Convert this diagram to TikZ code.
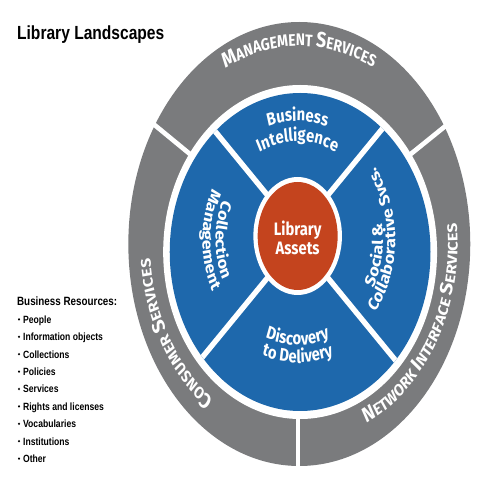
\documentclass[tikz,border=0pt]{standalone}
\usepackage{fontspec}
\setmainfont{Liberation Sans}
\newfontfamily\firafont{Fira Sans}
\usetikzlibrary{decorations.text}
\definecolor{ringgray}{RGB}{122,123,125}
\definecolor{assetblue}{RGB}{30,104,172}
\definecolor{assetred}{RGB}{196,68,30}
\newcommand\ringbig{\firafont\bfseries\fontsize{21.5}{22}\selectfont}
\newcommand\ringsmall{\firafont\bfseries\fontsize{16.8}{17}\selectfont}
\newcommand\sectorfont{\firafont\bfseries\fontsize{18}{18.5}\selectfont}
\tikzset{
	ringtext/.style={decorate,decoration={text along path,text align=center,text color=white,text={#1}}},
	sectortext/.style={decorate,decoration={text along path,text align=center,text color=white,text={|\sectorfont|#1}}},
	ringgap/.style={white,line width=5pt},
	divider/.style={white,line width=6pt},
	resource/.style={anchor=base west,inner sep=0pt,font=\bfseries\fontsize{10.5}{12}\selectfont}
}
\begin{document}
\begin{tikzpicture}
	\useasboundingbox (0,0) rectangle (480pt,480pt);
	\begin{scope}[x=1pt,y=1pt,transform canvas={xscale=0.82}]
		\node[anchor=base west,inner sep=0pt,font=\bfseries\fontsize{19}{20}\selectfont] (title) at (20.7,440) {Library Landscapes};
		\node[anchor=base west,inner sep=0pt,font=\bfseries\fontsize{12}{14}\selectfont] (resources) at (20.7,174) {Business Resources:};
		\foreach \res [count=\i] in {People,Information objects,Collections,Policies,Services,Rights and licenses,Vocabularies,Institutions,Other}{
			\node[resource] (res\i) at (28,174-17.4*\i) {\res};
			\fill (res\i.base west) ++(-4.8,4) circle (1.3);
		}
		\fill[ringgray] (365,236) ellipse (208.5 and 222);
		\fill[white] (366,228) circle (167);
		\draw[ringgap] (365,236) ++(146:150) -- ++(146:100);
		\draw[ringgap] (365,236) ++(33.5:150) -- ++(33.5:100);
		\draw[ringgap] (363.4,236) ++(270:150) -- ++(270:100);
		\fill[assetblue] (366,228) circle (159);
		\begin{scope}
			\clip (366,228) circle (159);
			\draw[divider] (363,248) -- ++(135:200) (363,248) -- ++(45:200);
			\draw[divider] (363,239) -- ++(225:200) (363,239) -- ++(-45:200);
		\end{scope}
		\fill[white] (363,244) ellipse (54 and 59);
		\fill[assetred] (363,244) ellipse (48.8 and 54);
		\node[align=center,text=white,font=\sectorfont] (assets) at (363,242) {Library\\Assets};
		\coordinate (hub) at (363,240);
		\path[sectortext={Business}] ([shift={(150:119)}]hub) arc[start angle=150,end angle=30,radius=119];
		\path[sectortext={Intelligence}] ([shift={(150:99)}]hub) arc[start angle=150,end angle=30,radius=99];
		\path[sectortext={Discovery}] ([shift={(210:105)}]hub) arc[start angle=210,end angle=330,radius=105];
		\path[sectortext={to Delivery}] ([shift={(210:123)}]hub) arc[start angle=210,end angle=330,radius=123];
		\path[sectortext={Collection}] ([shift={(120:100)}]hub) arc[start angle=120,end angle=240,radius=100];
		\path[sectortext={Management}] ([shift={(120:116)}]hub) arc[start angle=120,end angle=240,radius=116];
		\path[sectortext={Social {\&}}] ([shift={(-60:104)}]hub) arc[start angle=-60,end angle=42,radius=104];
		\path[sectortext={Collaborative Svcs.}] ([shift={(-60:119)}]hub) arc[start angle=-60,end angle=60,radius=119];
		\path[ringtext={|\ringbig|M|\ringsmall|ANAGEMENT |\ringbig|S|\ringsmall|ERVICES}] ([shift={(150:196 and 198)}]365,236) arc[start angle=150,end angle=30,x radius=196,y radius=198];
		\path[ringtext={|\ringbig|C|\ringsmall|ONSUMER |\ringbig|S|\ringsmall|ERVICES}] ([shift={(252:182 and 190)}]365,236) arc[start angle=252,end angle=168,x radius=182,y radius=190];
		\path[ringtext={|\ringbig|N|\ringsmall|ETWORK |\ringbig|I|\ringsmall|NTERFACE |\ringbig|S|\ringsmall|ERVICES}] ([shift={(285:193 and 198)}]365,236) arc[start angle=285,end angle=376,x radius=193,y radius=198];
	\end{scope}
\end{tikzpicture}
\end{document}
